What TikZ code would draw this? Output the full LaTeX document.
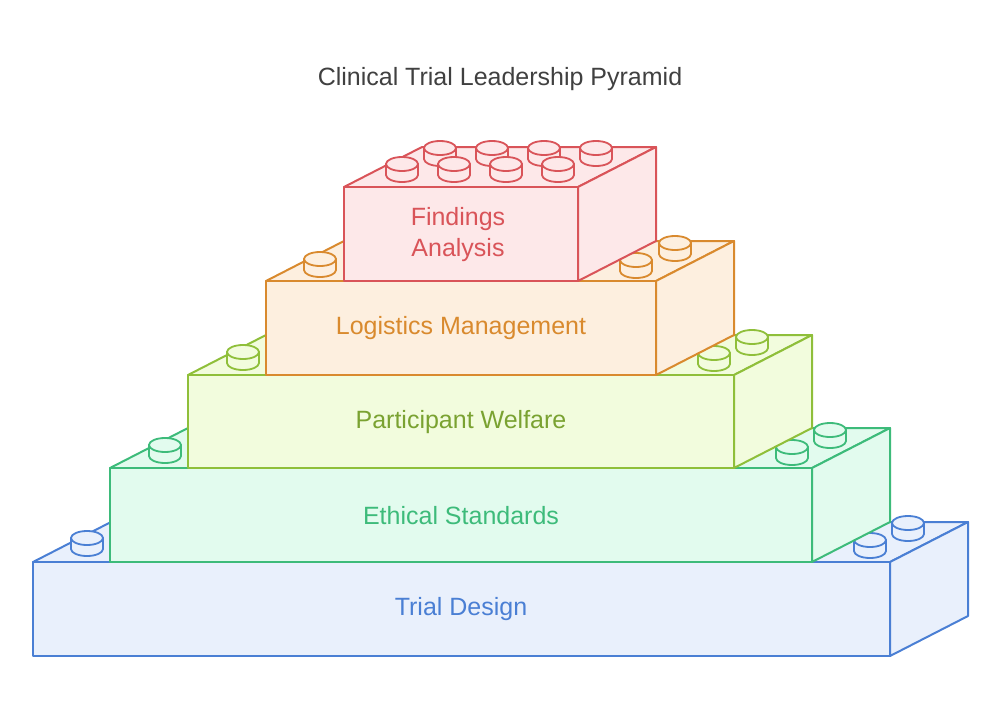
\documentclass[tikz,border=0pt]{standalone}
\usepackage{fontspec}
\setmainfont{Liberation Sans}
\begin{document}
\begin{tikzpicture}[x=1pt,y=-1pt,line width=2pt,line join=round,
  lbl/.style={font=\fontsize{25}{31}\selectfont,align=center}]
\useasboundingbox (0,0) rectangle (1000,720);
\definecolor{bS}{HTML}{4A7FD4}\definecolor{bF}{HTML}{E9F0FC}
\definecolor{gS}{HTML}{3DBB7A}\definecolor{gF}{HTML}{E2FBEE}
\definecolor{yS}{HTML}{8FBF3A}\definecolor{yF}{HTML}{F2FCDD}
\definecolor{oS}{HTML}{D98A2E}\definecolor{oF}{HTML}{FDEFDF}
\definecolor{rS}{HTML}{D95459}\definecolor{rF}{HTML}{FDE8E9}
\newcommand\stud[3]{% x y color
  \begin{scope}[shift={(#1,#2)}]
  \filldraw[draw=#3S,fill=#3F,line width=1.8pt] (-16,0) -- (-16,11) arc[start angle=180,end angle=0,x radius=16,y radius=7] -- (16,0) -- cycle;
  \filldraw[draw=#3S,fill=#3F,line width=1.8pt] (0,0) ellipse[x radius=16,y radius=7];
  \end{scope}}
\newcommand\blk[5]{% x1 y1 x2 y2 color
  \filldraw[draw=#5S,fill=#5F] (#1,#2) -- ++(78,-40) -- (#3+78,#2-40) -- (#3,#2) -- cycle;
  \filldraw[draw=#5S,fill=#5F] (#3,#2) -- ++(78,-40) -- (#3+78,#4-40) -- (#3,#4) -- cycle;
  \filldraw[draw=#5S,fill=#5F] (#1,#2) rectangle (#3,#4);}
\node[font=\fontsize{25}{31}\selectfont,text=black!75] (title) at (500,79) {Clinical Trial Leadership Pyramid};
\blk{33}{562}{890}{656}{b}
\stud{87}{538}{b}\stud{908}{523}{b}\stud{870}{540}{b}
\node[lbl,text=bS] (t1) at (461,609) {Trial Design};
\blk{110}{468}{812}{562}{g}
\stud{165}{445}{g}\stud{830}{430}{g}\stud{792}{447}{g}
\node[lbl,text=gS] (t2) at (461,516) {Ethical Standards};
\blk{188}{375}{734}{468}{y}
\stud{243}{352}{y}\stud{752}{337}{y}\stud{714}{353}{y}
\node[lbl,text=yS!85!black] (t3) at (461,422) {Participant Welfare};
\blk{266}{281}{656}{375}{o}
\stud{320}{259}{o}\stud{675}{243}{o}\stud{636}{260}{o}
\node[lbl,text=oS] (t4) at (461,328) {Logistics Management};
\blk{344}{187}{578}{281}{r}
\stud{440}{148}{r}\stud{492}{148}{r}\stud{544}{148}{r}\stud{596}{148}{r}
\stud{402}{164}{r}\stud{454}{164}{r}\stud{506}{164}{r}\stud{558}{164}{r}
\node[lbl,text=rS] (t5) at (458,235) {Findings\\Analysis};
\end{tikzpicture}
\end{document}
